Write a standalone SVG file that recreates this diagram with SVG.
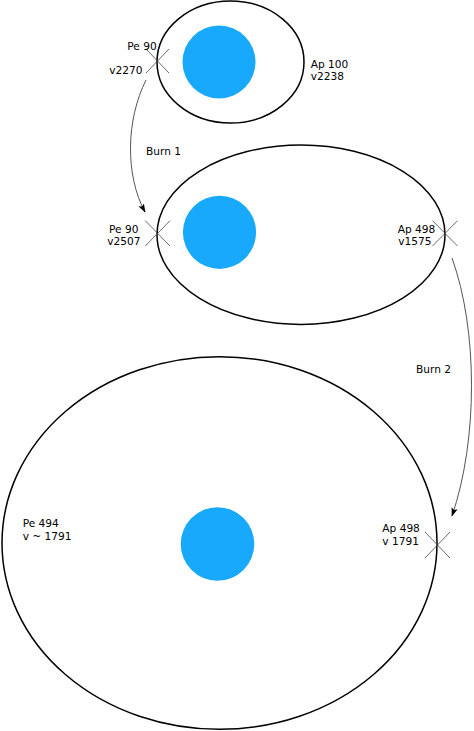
<svg xmlns="http://www.w3.org/2000/svg" width="474" height="731" viewBox="0 0 474 731">
<defs>
<style>
.orbit{fill:none;stroke:#000;stroke-width:1.5}
.planet{fill:#18a9fd;stroke:none}
.cross{stroke:#444;stroke-width:0.8;fill:none}
.arrow{fill:none;stroke:#555;stroke-width:1;marker-end:url(#ah)}
text{font-family:"DejaVu Sans",sans-serif;font-size:10.6px;fill:#000}
</style>
<marker id="ah" viewBox="0 0 10 10" refX="9" refY="5" markerWidth="9" markerHeight="9" markerUnits="userSpaceOnUse" orient="auto">
<path d="M0,1.5 L10,5 L0,8.5 L2,5 Z" fill="#000"/>
</marker>
</defs>
<g id="orbit1">
<ellipse class="orbit" cx="230.5" cy="62" rx="73.5" ry="61"/>
<circle class="planet" cx="219" cy="62" r="36.5"/>
<path class="cross" d="M146,49 L169,73 M146,73 L169,49"/>
<text x="127.3" y="49.5">Pe 90</text>
<text x="109.3" y="74">v2270</text>
<text x="310.7" y="68">Ap 100</text>
<text x="310.7" y="80">v2238</text>
</g>
<g id="orbit2">
<ellipse class="orbit" cx="301" cy="234.7" rx="144" ry="89.7"/>
<circle class="planet" cx="219.5" cy="232.3" r="36.6"/>
<path class="cross" d="M145.3,220.7 L170,246 M145.3,246 L170,220.7"/>
<path class="cross" d="M432.5,220.7 L457.5,246 M432.5,246 L457.5,220.7"/>
<text x="109" y="232.5">Pe 90</text>
<text x="107.3" y="245">v2507</text>
<text x="397.7" y="232.5">Ap 498</text>
<text x="398.3" y="245">v1575</text>
</g>
<g id="orbit3">
<ellipse class="orbit" cx="219.5" cy="543" rx="217.5" ry="186.3"/>
<circle class="planet" cx="217.5" cy="544" r="36.8"/>
<path class="cross" d="M425,532 L450,558 M425,558 L450,532"/>
<text x="22.7" y="527.3">Pe 494</text>
<text x="22.7" y="540">v ~ 1791</text>
<text x="382.3" y="532.3">Ap 498</text>
<text x="382.3" y="545">v 1791</text>
</g>
<g id="connectors">
<path class="arrow" d="M146,80 C126,120 125,175 145,212"/>
<text x="146" y="155">Burn 1</text>
<path class="arrow" d="M452,258 C478,330 478,440 452,516"/>
<text x="416" y="373.3">Burn 2</text>
</g>
</svg>
